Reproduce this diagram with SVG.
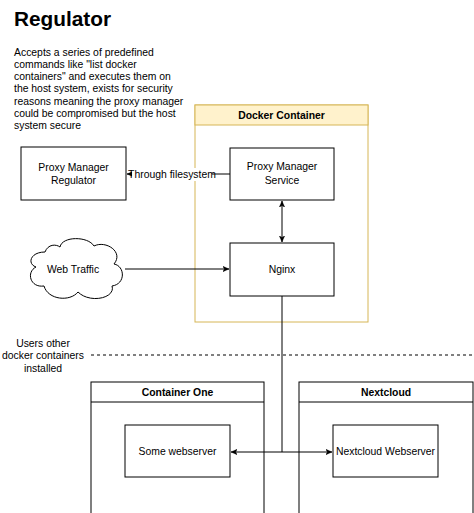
<svg xmlns="http://www.w3.org/2000/svg" width="474" height="513" viewBox="0 0 474 513">
<defs>
<style>
text{font-family:"Liberation Sans",Arial,Helvetica,sans-serif;font-size:10.4px;fill:#000}
.box{fill:#fff;stroke:#000;stroke-width:1}
.c{text-anchor:middle}
.b{font-weight:bold}
.ln{fill:none;stroke:#000;stroke-width:1}
</style>
<marker id="ah" viewBox="0 0 10 10" refX="9" refY="5" markerWidth="7" markerHeight="7" orient="auto-start-reverse" markerUnits="userSpaceOnUse">
<path d="M0,1 L9,5 L0,9 L2.5,5 Z" fill="#000" stroke="#000" stroke-width="0.5"/>
</marker>
</defs>
<rect width="474" height="513" fill="#fff"/>
<g id="title">
<text x="14" y="26" style="font-size:20.8px;font-weight:bold">Regulator</text>
</g>
<g id="description">
<text x="14" y="56">Accepts a series of predefined</text>
<text x="14" y="68">commands like "list docker</text>
<text x="14" y="80">containers" and executes them on</text>
<text x="14" y="92">the host system, exists for security</text>
<text x="14" y="105">reasons meaning the proxy manager</text>
<text x="14" y="117">could be compromised but the host</text>
<text x="14" y="129">system secure</text>
</g>
<g id="docker-container">
<rect x="195" y="105" width="173" height="217" fill="none" stroke="#d6b656"/>
<rect x="195" y="105" width="173" height="20" fill="#fff2cc" stroke="#d6b656"/>
<text x="281.5" y="119" class="c b">Docker Container</text>
</g>
<g id="container-one">
<rect x="91" y="382" width="173" height="140" class="box"/>
<line x1="91" y1="402" x2="264" y2="402" stroke="#000"/>
<text x="177.5" y="396" class="c b">Container One</text>
</g>
<g id="nextcloud">
<rect x="299" y="382" width="174" height="140" class="box"/>
<line x1="299" y1="402" x2="473" y2="402" stroke="#000"/>
<text x="386" y="396" class="c b">Nextcloud</text>
</g>
<g id="divider">
<line x1="91" y1="355" x2="474" y2="355" stroke="#000" stroke-dasharray="3,3"/>
<text x="43" y="347" class="c">Users other</text>
<text x="43" y="359" class="c">docker containers</text>
<text x="43" y="372" class="c">installed</text>
</g>
<g id="connectors">
<line x1="230" y1="174" x2="127" y2="174" class="ln" marker-end="url(#ah)"/>
<rect x="132" y="168" width="80" height="13" fill="#fff"/>
<text x="172" y="178" class="c">Through filesystem</text>
<line x1="282" y1="201" x2="282" y2="242" class="ln" marker-start="url(#ah)" marker-end="url(#ah)"/>
<line x1="125" y1="269" x2="229" y2="269" class="ln" marker-end="url(#ah)"/>
<line x1="282" y1="296" x2="282" y2="452" class="ln"/>
<line x1="231" y1="452" x2="332" y2="452" class="ln" marker-start="url(#ah)" marker-end="url(#ah)"/>
</g>
<g id="proxy-manager-service">
<rect x="230" y="148" width="104" height="52" class="box"/>
<text x="282" y="170" class="c">Proxy Manager</text>
<text x="282" y="184" class="c">Service</text>
</g>
<g id="nginx">
<rect x="230" y="243" width="104" height="53" class="box"/>
<text x="282" y="273" class="c">Nginx</text>
</g>
<g id="proxy-manager-regulator">
<rect x="21" y="147" width="105" height="53" class="box"/>
<text x="73.5" y="171" class="c">Proxy Manager</text>
<text x="73.5" y="184" class="c">Regulator</text>
</g>
<g id="web-traffic">
<path d="M45,252 C30,252 27,264 36,267 C26,272 30,288 44,286 C48,300 70,302 78,292 C90,304 116,298 112,286 C126,284 125,266 114,264 C124,252 106,240 94,246 C88,236 62,236 60,247 C56,244 48,244 45,252 Z" fill="#fff" stroke="#000"/>
<text x="73" y="273" class="c">Web Traffic</text>
</g>
<g id="some-webserver">
<rect x="125" y="425" width="105" height="52" class="box"/>
<text x="177.5" y="455" class="c">Some webserver</text>
</g>
<g id="nextcloud-webserver">
<rect x="333" y="425" width="105" height="52" class="box"/>
<text x="385.5" y="455" class="c">Nextcloud Webserver</text>
</g>
</svg>
